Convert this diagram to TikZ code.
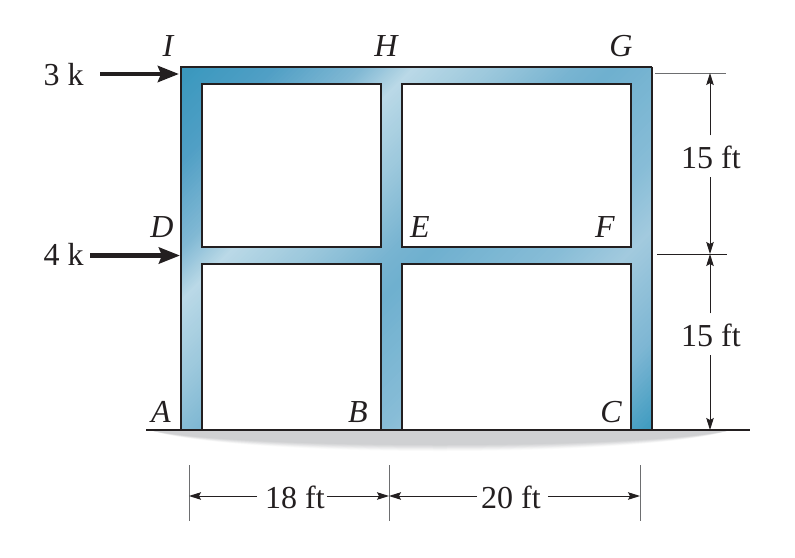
\documentclass[tikz,border=0pt]{standalone}
\usepackage{fontspec}
\setmainfont{Liberation Serif}
\usetikzlibrary{arrows.meta,calc}
\definecolor{ink}{HTML}{231F20}
\definecolor{shadowgray}{HTML}{CFD0D2}
\definecolor{dimgray}{HTML}{6D6E70}
\tikzset{
  x=1pt,y=-1pt,
  lbl/.style={font=\fontsize{32}{32}\selectfont,text=ink,inner sep=0pt,anchor=base},
  pt/.style={lbl,font=\fontsize{32}{32}\selectfont\itshape},
  force/.style={ink,line width=4.6pt,-{Stealth[length=21pt,width=16pt,inset=3pt]}},
  dimline/.style={ink,line width=0.9pt},
  dimtip/.style={-{Stealth[length=12pt,width=7.5pt,inset=2pt]}},
  extline/.style={dimgray,line width=1pt},
  edge/.style={ink,line width=1.9pt},
  holebox/.style={fill=white,draw=ink,line width=1.9pt},
}
\begin{document}
\begin{tikzpicture}
\useasboundingbox (0,0) rectangle (795,557);
\fill[white] (0,0) rectangle (795,557);
% ground shadow
\foreach \d/\m in {28/8,27/18,26/30,25/42,24/54,23/66,22/78,21/90,20/100}{
  \fill[shadowgray!\m!white] (150,430) .. controls (235,{430+\d}) and (645,{430+\d}) .. (730,430) -- cycle;
}
% frame with diagonal colour bands
\begin{scope}
\clip (181,67) rectangle (652,430);
\foreach \ta/\tb/\ca/\cb in {
  240/340/3797BD/509FC5,
  340/430/509FC5/82B9D4,
  430/480/82B9D4/BAD9E7,
  480/560/BAD9E7/9CC8DC,
  560/640/9CC8DC/78B4D1,
  640/680/78B4D1/6FB0CF,
  680/810/6FB0CF/88BDD7,
  810/880/88BDD7/A2CADE,
  880/990/A2CADE/7DB6D3,
  990/1090/7DB6D3/3597BD}{
  \definecolor{ca}{HTML}{\ca}\definecolor{cb}{HTML}{\cb}
  \foreach \k in {0,5,...,100}{
    \pgfmathsetmacro{\t}{\ta+(\tb-\ta)*\k/100}
    \fill[cb!\k!ca] ({\t},0) -- (1200,0) -- (1200,600) -- ({\t-600},600) -- cycle;
  }
}
\end{scope}
\draw[holebox] (202,84) rectangle (381,247);
\draw[holebox] (402,84) rectangle (631,247);
\draw[holebox] (202,264) rectangle (381,430);
\draw[holebox] (402,264) rectangle (631,430);
\draw[edge] (181,430) -- (181,67);
\draw[ink,line width=1.5pt] (180.2,67) -- (652,67);
\draw[ink,line width=2.2pt] (652,66.5) -- (652,430);
\draw[ink,line width=2.2pt] (146,430) -- (750,430);
% point labels
\node[pt] (nI) at (168,56) {I};
\node[pt] (nH) at (386,56) {H};
\node[pt] (nG) at (621,56) {G};
\node[pt] (nD) at (162,237) {D};
\node[pt] (nE) at (420,237) {E};
\node[pt] (nF) at (605,237) {F};
\node[pt] (nA) at (161,422) {A};
\node[pt] (nB) at (358,422) {B};
\node[pt] (nC) at (611,422) {C};
% forces
\node[lbl] (f3) at (63.5,85) {3 k};
\node[lbl] (f4) at (63.5,265.5) {4 k};
\coordinate (pI) at (179,74);
\coordinate (pD) at (180,255.5);
\draw[force] (100,74) -- (pI);
\draw[force] (90,255.5) -- (pD);
% vertical dimensions
\coordinate (vT) at (710,73);
\coordinate (vM) at (710,254);
\coordinate (vB) at (710,430);
\draw[extline] (655,73) -- (726,73);
\draw[ink,line width=0.8pt] (657,254.5) -- (727,254.5);
\node[lbl] (d1) at (711,168) {15 ft};
\node[lbl] (d2) at (711,346) {15 ft};
\draw[dimline,dimtip] ([yshift=10pt]d1.north -| vT) -- (vT);
\draw[dimline,dimtip] ([yshift=-9pt]d1.base -| vT) -- (vM);
\draw[dimline,dimtip] ([yshift=10pt]d2.north -| vT) -- (vM);
\draw[dimline,dimtip] ([yshift=-9pt]d2.base -| vT) -- (vB);
% horizontal dimensions
\coordinate (hL) at (189,496);
\coordinate (hM) at (389,496);
\coordinate (hR) at (640,496);
\draw[extline] (189,465) -- (189,521);
\draw[extline] (389,465) -- (389,521);
\draw[extline] (640,465) -- (640,521);
\node[lbl] (w1) at (295,508) {18 ft};
\node[lbl] (w2) at (511,508) {20 ft};
\draw[dimline,dimtip] ([xshift=-8pt]w1.west |- hL) -- (hL);
\draw[dimline,dimtip] ([xshift=2pt]w1.east |- hL) -- (hM);
\draw[dimline,dimtip] ([xshift=-4pt]w2.west |- hM) -- (hM);
\draw[dimline,dimtip] ([xshift=7pt]w2.east |- hR) -- (hR);
\end{tikzpicture}
\end{document}
